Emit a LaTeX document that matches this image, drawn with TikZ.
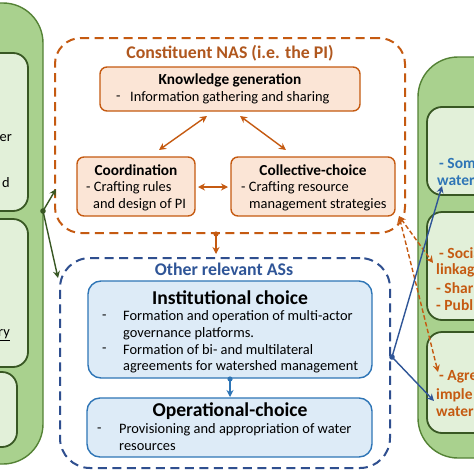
\documentclass[tikz,border=0pt]{standalone}
\usepackage{fontspec}
\setmainfont{Carlito}
\usetikzlibrary{arrows.meta}
\definecolor{org}{HTML}{C55A11}
\definecolor{orgtxt}{HTML}{B0571E}
\definecolor{peach}{HTML}{FBE5D6}
\definecolor{bluefill}{HTML}{DDEBF7}
\definecolor{blueline}{HTML}{2E75B6}
\definecolor{navy}{HTML}{2F4F8F}
\definecolor{navytxt}{HTML}{2F5597}
\definecolor{greenfill}{HTML}{A9D18E}
\definecolor{greenin}{HTML}{E2F0D9}
\definecolor{greenline}{HTML}{548235}
\definecolor{greendk}{HTML}{385723}
\tikzset{
  box/.style={rectangle, inner sep=0pt},
  obox/.style={box, draw=org, fill=peach, line width=1.4pt, rounded corners=7pt},
  bbox/.style={box, draw=blueline, fill=bluefill, line width=1.4pt, rounded corners=13pt},
  odash/.style={box, draw=org, line width=2pt, dash pattern=on 9pt off 5.5pt, rounded corners=26pt},
  bdash/.style={box, draw=navy, line width=2pt, dash pattern=on 9pt off 5.5pt, rounded corners=30pt},
  gouter/.style={box, draw=greenline, fill=greenfill, line width=1.4pt, rounded corners=40pt},
  ginner/.style={box, draw=greendk, fill=greenin, line width=1.8pt, rounded corners=15pt},
  body/.style={inner sep=0pt, font=\fontsize{14.4}{16}\selectfont},
  otitle/.style={inner sep=0pt, font=\fontsize{15.3}{17}\selectfont\bfseries},
  gtitle/.style={inner sep=0pt, font=\fontsize{17.8}{19}\selectfont\bfseries},
  btitle/.style={inner sep=0pt, font=\fontsize{19.6}{21}\selectfont\bfseries},
  rtxt/.style={inner sep=0pt, font=\fontsize{15.5}{17}\selectfont\bfseries},
  oarr/.style={draw=org, line width=1.4pt, {Stealth[length=7pt,width=7pt]}-{Stealth[length=7pt,width=7pt]}},
  odarr/.style={draw=org, line width=1.4pt, dash pattern=on 4.5pt off 2.5pt, {Stealth[length=7pt,width=7pt]}-{Stealth[length=7pt,width=7pt]}},
  garr/.style={draw=greendk, line width=1.4pt, -{Stealth[length=7pt,width=7pt]}},
  barr/.style={draw=navytxt, line width=1.4pt, -{Stealth[length=7pt,width=7pt]}},
  blarr/.style={draw=blueline, line width=1.4pt, -{Stealth[length=7pt,width=7pt]}},
}
\begin{document}
\begin{tikzpicture}[x=1pt,y=-1pt]
\useasboundingbox (0,0) rectangle (474,474);
\clip (0,0) rectangle (474,474);
\fill[white] (0,0) rectangle (474,474);

% left green panel
\node[gouter, minimum width=103pt, minimum height=461pt] (lout) at (-8.5,233.5) {};
\node[ginner, minimum width=68pt, minimum height=158pt] (lin1) at (-6,132) {};
\node[ginner, minimum width=68pt, minimum height=148pt] (lin2) at (-6,293) {};
\node[ginner, minimum width=57pt, minimum height=75pt] (lin3) at (-11.5,409.5) {};
\node[body, anchor=east] (lt1) at (12,138) {er};
\node[body, anchor=east] (lt2) at (10,183) {d};
\node[body, anchor=east] (lt3) at (10,335) {\underline{ry}};

% right green panel
\node[gouter, minimum width=122pt, minimum height=401pt] (rout) at (479,257.5) {};
\node[ginner, minimum width=93pt, minimum height=88pt] (rin1) at (473.5,151) {};
\node[ginner, minimum width=93pt, minimum height=108pt] (rin2) at (473.5,266) {};
\node[ginner, minimum width=93pt, minimum height=101pt] (rin3) at (473.5,382.5) {};
\node[rtxt, text=blueline, anchor=west] (r1a) at (439,163) {- Som};
\node[rtxt, text=blueline, anchor=west] (r1b) at (437,181) {water};
\node[rtxt, text=org, anchor=west] (r2a) at (439,253) {- Socia};
\node[rtxt, text=org, anchor=west] (r2b) at (436,270) {linkag};
\node[rtxt, text=org, anchor=west] (r2c) at (436,288) {- Shar};
\node[rtxt, text=org, anchor=west] (r2d) at (436,305) {- Publ};
\node[rtxt, text=org, anchor=west] (r3a) at (439,377) {- Agre};
\node[rtxt, text=org, anchor=west] (r3b) at (436,395) {imple};
\node[rtxt, text=org, anchor=west] (r3c) at (436,412) {water};

% constituent NAS
\node[odash, minimum width=350pt, minimum height=195pt] (nas) at (230,135.5) {};
\node[gtitle, text=orgtxt] (nast) at (230,53) {Constituent NAS (i.e. the PI)};
\node[obox, minimum width=260pt, minimum height=44pt] (kg) at (230,89) {};
\node[otitle] (kgt) at (230,80) {Knowledge generation};
\node[body, anchor=west] (kgd) at (116,98) {-};
\node[body, anchor=west] (kgl) at (130,98) {Information gathering and sharing};
\node[obox, minimum width=118pt, minimum height=59pt] (co) at (136,186.5) {};
\node[otitle] (cot) at (136,170) {Coordination};
\node[body, anchor=west] (co1) at (86,188) {- Crafting rules};
\node[body, anchor=west] (co2) at (93,205) {and design of PI};
\node[obox, minimum width=164pt, minimum height=59pt] (cc) at (313,186.5) {};
\node[otitle] (cct) at (313,170) {Collective-choice};
\node[body, anchor=west] (cc1) at (241,188) {- Crafting resource};
\node[body, anchor=west] (cc2) at (249,205) {management strategies};

% other relevant ASs
\node[bdash, minimum width=330pt, minimum height=210pt] (oas) at (225,363) {};
\node[gtitle, text=navytxt] (oast) at (224,269) {Other relevant ASs};
\node[bbox, minimum width=284pt, minimum height=97pt] (inst) at (230,329.5) {};
\node[btitle] (instt) at (230,298) {Institutional choice};
\node[body, anchor=west] (id1) at (102,317) {-};
\node[body, anchor=west] (il1) at (123,317) {Formation and operation of multi-actor};
\node[body, anchor=west] (il2) at (123,334) {governance platforms.};
\node[body, anchor=west] (id2) at (102,350) {-};
\node[body, anchor=west] (il3) at (123,350) {Formation of bi- and multilateral};
\node[body, anchor=west] (il4) at (123,367) {agreements for watershed management};
\node[bbox, minimum width=285pt, minimum height=59pt] (op) at (229.5,427.5) {};
\node[btitle] (opt) at (230,411) {Operational-choice};
\node[body, anchor=west] (od1) at (97,430) {-};
\node[body, anchor=west] (ol1) at (119,430) {Provisioning and appropriation of water};
\node[body, anchor=west] (ol2) at (119,447) {resources};

% connectors inside NAS
\coordinate (kgL) at (207,116);
\coordinate (coT) at (159,150);
\coordinate (kgR) at (240,116);
\coordinate (ccT) at (286,150);
\coordinate (coR) at (198,187);
\coordinate (ccL) at (228,187);
\draw[oarr] (kgL) -- (coT);
\draw[oarr] (kgR) -- (ccT);
\draw[oarr] (coR) -- (ccL);

% NAS -> other ASs
\coordinate (odot) at (216,234);
\coordinate (otip) at (216,254);
\draw[draw=org, line width=1.4pt, -{Stealth[length=7pt,width=7pt]}] (odot) -- (otip);
\fill[org] (odot) circle (2.6pt);

% institutional -> operational
\coordinate (bdot2) at (230,379);
\coordinate (btip2) at (230,397);
\draw[blarr] (bdot2) -- (btip2);
\fill[blueline] (bdot2) circle (2.6pt);

% green connectors
\coordinate (gdot) at (43,211);
\coordinate (g1) at (56,189);
\coordinate (g2) at (58,278);
\draw[garr] (gdot) -- (g1);
\draw[garr] (gdot) -- (g2);
\fill[greendk] (gdot) circle (2.8pt);

% orange dashed to right panel
\coordinate (oc) at (399,216);
\coordinate (or2) at (433,263);
\coordinate (or3) at (438,372);
\draw[odarr] (oc) -- (or2);
\draw[odarr] (oc) -- (or3);

% blue connectors to right panel
\coordinate (bdot) at (392,357);
\coordinate (br1) at (442,186);
\coordinate (br3) at (434,401);
\draw[barr] (bdot) -- (br1);
\draw[barr] (bdot) -- (br3);
\fill[navytxt] (bdot) circle (2.8pt);
\end{tikzpicture}
\end{document}
